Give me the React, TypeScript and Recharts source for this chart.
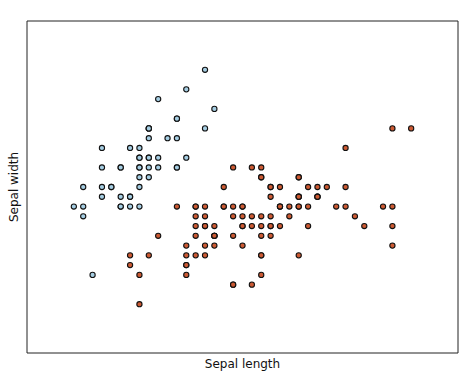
import {
  ScatterChart,
  Scatter,
  XAxis,
  YAxis,
  ReferenceArea,
} from 'recharts';

// sepal length / width, iris setosa
const setosaLength = [
  5.1, 4.9, 4.7, 4.6, 5.0, 5.4, 4.6, 5.0, 4.4, 4.9,
  5.4, 4.8, 4.8, 4.3, 5.8, 5.7, 5.4, 5.1, 5.7, 5.1,
  5.4, 5.1, 4.6, 5.1, 4.8, 5.0, 5.0, 5.2, 5.2, 4.7,
  4.8, 5.4, 5.2, 5.5, 4.9, 5.0, 5.5, 4.9, 4.4, 5.1,
  5.0, 4.5, 4.4, 5.0, 5.1, 4.8, 5.1, 4.6, 5.3, 5.0,
];
const setosaWidth = [
  3.5, 3.0, 3.2, 3.1, 3.6, 3.9, 3.4, 3.4, 2.9, 3.1,
  3.7, 3.4, 3.0, 3.0, 4.0, 4.4, 3.9, 3.5, 3.8, 3.8,
  3.4, 3.7, 3.6, 3.3, 3.4, 3.0, 3.4, 3.5, 3.4, 3.2,
  3.1, 3.4, 4.1, 4.2, 3.1, 3.2, 3.5, 3.6, 3.0, 3.4,
  3.5, 2.3, 3.2, 3.5, 3.8, 3.0, 3.8, 3.2, 3.7, 3.3,
];

// versicolor + virginica
const otherLength = [
  7.0, 6.4, 6.9, 5.5, 6.5, 5.7, 6.3, 4.9, 6.6, 5.2,
  5.0, 5.9, 6.0, 6.1, 5.6, 6.7, 5.6, 5.8, 6.2, 5.6,
  5.9, 6.1, 6.3, 6.1, 6.4, 6.6, 6.8, 6.7, 6.0, 5.7,
  5.5, 5.5, 5.8, 6.0, 5.4, 6.0, 6.7, 6.3, 5.6, 5.5,
  5.5, 6.1, 5.8, 5.0, 5.6, 5.7, 5.7, 6.2, 5.1, 5.7,
  6.3, 5.8, 7.1, 6.3, 6.5, 7.6, 4.9, 7.3, 6.7, 7.2,
  6.5, 6.4, 6.8, 5.7, 5.8, 6.4, 6.5, 7.7, 7.7, 6.0,
  6.9, 5.6, 7.7, 6.3, 6.7, 7.2, 6.2, 6.1, 6.4, 7.2,
  7.4, 7.9, 6.4, 6.3, 6.1, 7.7, 6.3, 6.4, 6.0, 6.9,
  6.7, 6.9, 5.8, 6.8, 6.7, 6.7, 6.3, 6.5, 6.2, 5.9,
];
const otherWidth = [
  3.2, 3.2, 3.1, 2.3, 2.8, 2.8, 3.3, 2.4, 2.9, 2.7,
  2.0, 3.0, 2.2, 2.9, 2.9, 3.1, 3.0, 2.7, 2.2, 2.5,
  3.2, 2.8, 2.5, 2.8, 2.9, 3.0, 2.8, 3.0, 2.9, 2.6,
  2.4, 2.4, 2.7, 2.7, 3.0, 3.4, 3.1, 2.3, 3.0, 2.5,
  2.6, 3.0, 2.6, 2.3, 2.7, 3.0, 2.9, 2.9, 2.5, 2.8,
  3.3, 2.7, 3.0, 2.9, 3.0, 3.0, 2.5, 2.9, 2.5, 3.6,
  3.2, 2.7, 3.0, 2.5, 2.8, 3.2, 3.0, 3.8, 2.6, 2.2,
  3.2, 2.8, 2.8, 2.7, 3.3, 3.2, 2.8, 3.0, 2.8, 3.0,
  2.8, 3.8, 2.8, 2.8, 2.6, 3.0, 3.4, 3.1, 3.0, 3.1,
  3.1, 3.1, 2.7, 3.2, 3.3, 3.0, 2.5, 3.0, 3.4, 3.0,
];

const setosa = setosaLength.map((x, i) => ({ x, y: setosaWidth[i] }));
const others = otherLength.map((x, i) => ({ x, y: otherWidth[i] }));

const dot = (fill: string) => (props: any) => (
  <circle cx={props.cx} cy={props.cy} r={2.6} fill={fill} stroke="#111" strokeWidth={1.1} />
);

export default function App() {
  return (
    <div style={{ position: 'absolute', left: 0, top: 0, background: '#fff' }}>
      <ScatterChart
        width={474}
        height={378}
        margin={{ top: 21, right: 16, bottom: 0, left: 0 }}
        style={{ fontFamily: 'DejaVu Sans', fontSize: 12 }}
      >
        <XAxis
          type="number"
          dataKey="x"
          domain={[3.8, 8.4]}
          allowDataOverflow
          tick={false}
          axisLine={false}
          tickLine={false}
          height={25}
          label={{ value: 'Sepal length', position: 'center', dy: -2, fill: '#111', fontSize: 12 }}
        />
        <YAxis
          type="number"
          dataKey="y"
          domain={[1.5, 4.9]}
          allowDataOverflow
          tick={false}
          axisLine={false}
          tickLine={false}
          width={27}
          label={{ value: 'Sepal width', position: 'center', angle: -90, fill: '#111', fontSize: 12 }}
        />
        <ReferenceArea
          x1={3.8}
          x2={8.4}
          y1={1.5}
          y2={4.9}
          fill="none"
          stroke="#222"
          strokeWidth={1}
        />
        <Scatter data={setosa} shape={dot('#a6cee3')} isAnimationActive={false} />
        <Scatter data={others} shape={dot('#cc5a33')} isAnimationActive={false} />
      </ScatterChart>
    </div>
  );
}
